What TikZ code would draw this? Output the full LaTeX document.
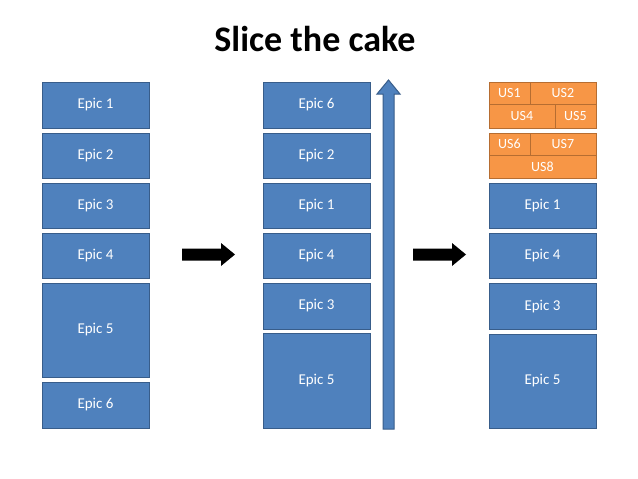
\documentclass[tikz,border=0pt]{standalone}
\usepackage{fontspec}
\setmainfont{Carlito}
\begin{document}
\begin{tikzpicture}[x=1pt,y=-1pt,
  epic/.style={draw=epicborder,fill=epicfill,line width=1pt,inner sep=0pt,outer sep=0pt,
    text=white,font=\fontsize{15}{17}\selectfont,minimum width=107pt},
  us/.style={draw=usborder,fill=usfill,line width=1pt,inner sep=0pt,outer sep=0pt,
    text=white,font=\fontsize{14}{16}\selectfont},
  bigarrow/.style={fill=black}]
\definecolor{epicfill}{HTML}{4F81BD}
\definecolor{epicborder}{HTML}{385D8A}
\definecolor{usfill}{HTML}{F79646}
\definecolor{usborder}{HTML}{B66D31}
\useasboundingbox (0,0) rectangle (638,479);
\fill[white] (0,0) rectangle (638,479);
\node[font=\fontsize{36}{40}\selectfont\bfseries] (title) at (315,39) {Slice the cake};
% column 1
\node[epic,minimum height=46pt] (a1) at (95.5,105) {Epic 1};
\node[epic,minimum height=45pt] (a2) at (95.5,155.5) {Epic 2};
\node[epic,minimum height=45pt] (a3) at (95.5,205.5) {Epic 3};
\node[epic,minimum height=45pt] (a4) at (95.5,255.5) {Epic 4};
\node[epic,minimum height=94pt] (a5) at (95.5,330) {Epic 5};
\node[epic,minimum height=46pt] (a6) at (95.5,405) {Epic 6};
% column 2
\node[epic,minimum height=46pt] (b6) at (316.5,105) {Epic 6};
\node[epic,minimum height=45pt] (b2) at (316.5,155.5) {Epic 2};
\node[epic,minimum height=45pt] (b1) at (316.5,205.5) {Epic 1};
\node[epic,minimum height=45pt] (b4) at (316.5,255.5) {Epic 4};
\node[epic,minimum height=46pt] (b3) at (316.5,306) {Epic 3};
\node[epic,minimum height=95pt] (b5) at (316.5,380.5) {Epic 5};
% column 3
\node[epic,minimum height=45pt] (c1) at (542.5,205.5) {Epic 1};
\node[epic,minimum height=45pt] (c4) at (542.5,255.5) {Epic 4};
\node[epic,minimum height=46pt] (c3) at (542.5,306.5) {Epic 3};
\node[epic,minimum height=94pt] (c5) at (542.5,381) {Epic 5};
% user stories
\node[us,minimum width=41pt,minimum height=22pt] (us1) at (509.5,93) {US1};
\node[us,minimum width=66pt,minimum height=22pt] (us2) at (563,93) {US2};
\node[us,minimum width=66pt,minimum height=24pt] (us4) at (522,116) {US4};
\node[us,minimum width=41pt,minimum height=24pt] (us5) at (575.5,116) {US5};
\node[us,minimum width=41pt,minimum height=22pt] (us6) at (509.5,144) {US6};
\node[us,minimum width=66pt,minimum height=22pt] (us7) at (563,144) {US7};
\node[us,minimum width=107pt,minimum height=23pt] (us8) at (542.5,166.5) {US8};
% vertical priority arrow
\filldraw[fill=epicfill,draw=epicborder,line width=1pt]
  (383,429) -- (383,94) -- (377,94) -- (388.5,80) -- (400,94) -- (394,94) -- (394,429) -- cycle;
% black arrows
\fill[bigarrow] (182,248.5) -- (221,248.5) -- (221,243) -- (235,254.5) -- (221,266) -- (221,260.5) -- (182,260.5) -- cycle;
\fill[bigarrow] (413,248.5) -- (452,248.5) -- (452,243) -- (466,254.5) -- (452,266) -- (452,260.5) -- (413,260.5) -- cycle;
\end{tikzpicture}
\end{document}
